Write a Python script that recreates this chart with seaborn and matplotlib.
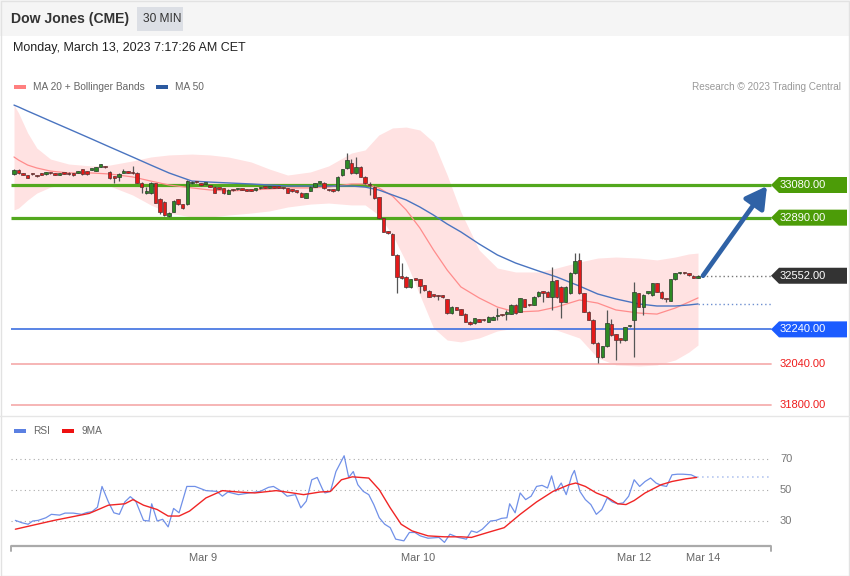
import numpy as np
import pandas as pd
import matplotlib
matplotlib.use("Agg")
import matplotlib.pyplot as plt
from matplotlib.patches import Rectangle, Polygon
from matplotlib.transforms import blended_transform_factory
import seaborn as sns

# ------------------------------------------------------------------ data
opens = [33144, 33167, 33144, 33138, 33146, 33134, 33144, 33144, 33150, 33147,
         33138, 33147, 33152, 33144, 33150, 33173, 33161, 33170, 33163, 33185,
         33191, 33157, 33127, 33127, 33150, 33156, 33150, 33152, 33093, 33035,
         33035, 33090, 32999, 32983, 32900, 32925, 32997, 32969, 32969, 33090,
         33099, 33090, 33086, 33071, 33070, 33062, 33061, 33028, 33052, 33054,
         33055, 33048, 33047, 33051, 33062, 33066, 33065, 33067, 33065, 33063,
         33061, 33048, 33042, 33035, 33006, 33047, 33070, 33092, 33093, 33052,
         33048, 33051, 33138, 33177, 33210, 33148, 33186, 33128, 33082, 33070,
         33008, 32886, 32804, 32795, 32673, 32543, 32546, 32485, 32532, 32531,
         32498, 32465, 32436, 32435, 32438, 32415, 32334, 32368, 32357, 32330,
         32285, 32275, 32299, 32296, 32285, 32295, 32317, 32325, 32330, 32330,
         32382, 32343, 32415, 32383, 32382, 32434, 32456, 32459, 32427, 32527,
         32488, 32401, 32450, 32566, 32644, 32450, 32343, 32295, 32162, 32078,
         32143, 32271, 32211, 32180, 32178, 32259, 32295, 32450, 32372, 32453,
         32440, 32508, 32459, 32416, 32407, 32532, 32566, 32568, 32566, 32551,
         32540]
closes = [33167, 33150, 33141, 33121, 33142, 33130, 33141, 33150, 33147, 33138,
          33147, 33145, 33142, 33141, 33157, 33144, 33144, 33173, 33185, 33202,
          33182, 33119, 33121, 33144, 33152, 33150, 33148, 33093, 33070, 33047,
          33093, 32977, 32925, 32905, 32919, 32989, 32969, 32944, 33105, 33099,
          33097, 33080, 33090, 33069, 33035, 33059, 33035, 33051, 33050, 33056,
          33053, 33046, 33045, 33061, 33064, 33064, 33067, 33065, 33063, 33061,
          33035, 33046, 33040, 33012, 33032, 33070, 33090, 33094, 33061, 33050,
          33046, 33128, 33171, 33225, 33148, 33186, 33128, 33090, 33078, 33003,
          32886, 32808, 32802, 32673, 32543, 32540, 32485, 32531, 32530, 32492,
          32469, 32430, 32434, 32433, 32427, 32334, 32372, 32353, 32324, 32285,
          32271, 32304, 32285, 32294, 32314, 32314, 32318, 32323, 32331, 32382,
          32334, 32421, 32372, 32381, 32430, 32459, 32454, 32430, 32523, 32427,
          32401, 32488, 32570, 32640, 32450, 32343, 32295, 32159, 32078, 32143,
          32275, 32207, 32178, 32178, 32252, 32261, 32459, 32372, 32440, 32455,
          32508, 32459, 32421, 32414, 32532, 32566, 32568, 32566, 32555, 32540,
          32552]
highs = [33173, 33173, 33147, 33141, 33149, 33136, 33147, 33153, 33153, 33150,
         33150, 33150, 33155, 33150, 33160, 33176, 33164, 33176, 33187, 33205,
         33193, 33160, 33130, 33147, 33173, 33159, 33191, 33155, 33096, 33068,
         33096, 33093, 33002, 32986, 32922, 32992, 33000, 32972, 33110, 33102,
         33102, 33093, 33093, 33074, 33073, 33065, 33064, 33054, 33055, 33059,
         33058, 33051, 33050, 33064, 33067, 33069, 33070, 33070, 33068, 33066,
         33064, 33055, 33045, 33038, 33035, 33073, 33093, 33097, 33096, 33055,
         33051, 33131, 33174, 33268, 33230, 33245, 33190, 33131, 33097, 33073,
         33011, 32889, 32810, 32798, 32676, 32626, 32549, 32534, 32535, 32534,
         32501, 32468, 32439, 32438, 32441, 32418, 32375, 32371, 32360, 32333,
         32288, 32307, 32302, 32299, 32317, 32317, 32364, 32328, 32353, 32385,
         32385, 32424, 32418, 32386, 32433, 32462, 32462, 32462, 32605, 32530,
         32491, 32491, 32573, 32684, 32684, 32453, 32346, 32298, 32165, 32146,
         32353, 32300, 32214, 32183, 32255, 32266, 32517, 32453, 32443, 32460,
         32511, 32511, 32462, 32419, 32535, 32569, 32574, 32574, 32569, 32554,
         32555]
lows = [33138, 33144, 33138, 33118, 33140, 33127, 33138, 33141, 33144, 33136,
        33136, 33142, 33140, 33132, 33147, 33141, 33141, 33167, 33161, 33182,
        33179, 33115, 33092, 33103, 33147, 33147, 33144, 33090, 33033, 33028,
        33030, 32974, 32911, 32900, 32896, 32922, 32966, 32940, 32966, 33087,
        33093, 33077, 33082, 33066, 33032, 33056, 33030, 33025, 33047, 33051,
        33050, 33044, 33043, 33048, 33059, 33061, 33062, 33062, 33060, 33058,
        33032, 33040, 33033, 33009, 33003, 33044, 33067, 33089, 33058, 33045,
        33040, 33048, 33135, 33174, 33145, 33145, 33125, 33087, 33022, 33000,
        32883, 32805, 32795, 32670, 32453, 32535, 32482, 32482, 32527, 32452,
        32466, 32427, 32431, 32411, 32424, 32331, 32331, 32350, 32321, 32282,
        32268, 32272, 32282, 32291, 32282, 32292, 32295, 32320, 32295, 32327,
        32331, 32340, 32369, 32378, 32379, 32431, 32399, 32427, 32353, 32424,
        32306, 32398, 32447, 32563, 32447, 32340, 32292, 32156, 32046, 32075,
        32140, 32204, 32062, 32160, 32175, 32254, 32081, 32369, 32324, 32448,
        32437, 32456, 32418, 32399, 32404, 32529, 32560, 32560, 32552, 32537,
        32537]

band_idx = [0, 1, 3, 5, 8, 12, 17, 21, 26, 30, 34, 39, 43, 47, 52, 56, 60, 65, 69, 74,
            77, 80, 83, 86, 89, 92, 95, 98, 102, 106, 110, 115, 119, 124, 128, 132,
            137, 141, 145, 148, 150]
bb_upper = [33545, 33499, 33383, 33295, 33231, 33202, 33191, 33196, 33220, 33243,
            33255, 33260, 33255, 33243, 33214, 33173, 33138, 33156, 33191, 33266,
            33284, 33371, 33412, 33417, 33400, 33330, 33138, 32923, 32702, 32597,
            32574, 32574, 32597, 32632, 32655, 32661, 32655, 32644, 32661, 32679, 32684]
ma20 = [33243, 33225, 33196, 33179, 33161, 33150, 33150, 33144, 33127, 33103,
        33080, 33063, 33051, 33045, 33051, 33057, 33063, 33063, 33068, 33086,
        33086, 33063, 33016, 32935, 32830, 32702, 32585, 32487, 32423, 32370,
        32341, 32347, 32370, 32411, 32393, 32353, 32335, 32329, 32364, 32399, 32423]
bb_lower = [32935, 32946, 32993, 33033, 33068, 33086, 33086, 33074, 33022, 32964,
            32917, 32894, 32894, 32905, 32917, 32929, 32952, 32969, 32975, 32964,
            32964, 32905, 32789, 32632, 32440, 32248, 32178, 32167, 32190, 32231,
            32248, 32248, 32236, 32190, 32074, 32033, 32027, 32033, 32062, 32108, 32149]
ma50 = [33545, 33534, 33510, 33487, 33452, 33406, 33348, 33301, 33243, 33196,
        33150, 33103, 33097, 33092, 33086, 33080, 33074, 33074, 33074, 33074,
        33068, 33051, 33022, 32993, 32952, 32905, 32853, 32807, 32737, 32673,
        32626, 32580, 32545, 32492, 32446, 32417, 32388, 32376, 32376, 32382, 32388]

rsi_idx = [0.3, 1.7, 3.1, 4.1, 5.3, 7.0, 8.2, 10.0, 11.2, 13.0,
           14.8, 16.0, 17.1, 18.3, 19.3, 20.7, 21.9, 23.1, 24.3, 25.5,
           26.7, 28.4, 29.6, 30.2, 31.4, 32.6, 33.8, 35.0, 36.2, 37.9,
           39.7, 42.1, 44.5, 45.7, 46.9, 49.2, 51.6, 54.0, 55.8, 56.9,
           58.7, 59.9, 61.7, 62.9, 64.1, 65.3, 66.5, 67.7, 68.2, 69.4,
           70.6, 72.4, 73.4, 74.4, 75.4, 76.6, 77.8, 78.9, 80.1, 81.3,
           82.5, 83.7, 85.5, 86.7, 87.9, 89.1, 90.8, 93.2, 94.4, 95.6,
           97.4, 99.2, 100.3, 101.5, 102.7, 104.5, 105.7, 106.9, 108.1, 108.7,
           109.9, 111.0, 112.2, 113.4, 114.6, 115.8, 117.0, 117.9, 118.8, 120.0,
           121.1, 122.3, 122.9, 124.1, 125.3, 126.5, 127.7, 128.9, 130.1, 131.2,
           132.4, 133.6, 134.8, 136.0, 137.2, 138.4, 139.6, 140.8, 141.9, 143.1,
           144.3, 145.5, 146.7, 148.5, 149.7]
rsi_val = [30.4, 28.9, 27.9, 30.0, 30.4, 32.1, 34.3, 33.8, 35.1, 35.1,
           34.3, 35.5, 36.0, 38.9, 52.3, 42.3, 35.3, 34.3, 42.3, 45.7,
           42.8, 30.4, 30.0, 41.1, 30.0, 31.1, 26.2, 38.1, 35.3, 52.3,
           52.3, 49.6, 49.1, 46.0, 48.7, 47.0, 48.1, 49.1, 51.7, 52.3,
           49.1, 46.0, 47.0, 38.5, 42.8, 56.6, 58.1, 50.2, 48.1, 49.1,
           61.9, 72.1, 58.1, 61.9, 53.4, 49.1, 47.0, 40.6, 32.1, 27.9,
           25.7, 18.3, 17.2, 22.6, 22.6, 20.4, 18.9, 19.4, 16.2, 21.5,
           19.4, 18.3, 23.6, 22.6, 24.7, 30.0, 30.4, 31.7, 32.1, 41.1,
           35.3, 48.1, 43.8, 46.0, 52.3, 53.0, 51.3, 59.1, 49.1, 54.5,
           47.0, 59.1, 62.6, 49.1, 43.8, 40.6, 34.3, 37.4, 44.9, 42.3,
           41.1, 41.7, 46.0, 56.6, 52.3, 55.5, 57.7, 54.5, 53.0, 52.3,
           59.8, 60.2, 60.2, 59.8, 58.1]
ma9_idx = [0.3, 8.8, 16.5, 20.7, 24.3, 26.1, 28.4, 31.4, 33.8, 36.2,
           38.5, 42.1, 45.7, 49.2, 52.8, 57.5, 61.1, 63.5, 67.1, 69.4,
           71.8, 74.2, 77.8, 80.1, 82.5, 84.9, 87.3, 90.8, 94.4, 98.0,
           100.3, 103.9, 107.5, 111.0, 114.6, 118.2, 121.7, 123.2, 125.3, 127.7,
           130.1, 132.4, 134.2, 136.0, 138.4, 141.9, 144.3, 147.3, 149.7]
ma9_val = [24.7, 30.4, 34.9, 40.2, 41.1, 43.8, 40.2, 37.4, 33.2, 33.2,
           36.4, 44.9, 49.6, 48.7, 48.1, 49.6, 48.1, 47.0, 48.7, 49.1,
           56.6, 58.5, 57.7, 50.2, 38.5, 27.9, 23.6, 20.4, 19.8, 19.8,
           19.4, 22.6, 25.7, 34.3, 42.3, 49.1, 53.4, 54.5, 52.3, 48.1,
           45.3, 41.1, 40.6, 43.2, 48.1, 53.4, 55.5, 57.2, 58.1]

resistances = [33080, 32890]
supports = [32240, 32040, 31800]
last_price = 32552
target_price = 33074
rsi_levels = [70, 50, 30]
date_labels = ["Mar 9", "Mar 10", "Mar 12", "Mar 14"]
date_pos = [41.4, 88.6, 136.0, 151.1]

# ------------------------------------------------------------------ layout helpers
W, H = 850, 576
X0, STEP = 14.0, 4.56          # pixel of candle 0, pixel per candle
PPP = 1280.0 / 220.0           # price units per pixel


def px2i(px):
    return (px - X0) / STEP


def py2price(py):
    return 33080 - (py - 185) * PPP


def py2rsi(py):
    return 50 - (py - 490) / 1.55


sns.set_theme(style="white")
plt.rcParams['font.family'] = ['Liberation Sans', 'DejaVu Sans']

fig = plt.figure(figsize=(W / 100, H / 100), dpi=100)
fig.patch.set_facecolor('white')

# header
fig.add_artist(Rectangle((0, 1 - 36 / H), 1, 36 / H, transform=fig.transFigure,
                         facecolor='#f5f5f5', edgecolor='none', zorder=0))
fig.add_artist(Rectangle((137 / W, 1 - 31 / H), 46 / W, 24 / H, transform=fig.transFigure,
                         facecolor='#dcdfe5', edgecolor='none', zorder=1))
fig.text(11 / W, 1 - 18.5 / H, "Dow Jones (CME)", fontsize=10.1, fontweight='bold',
         color='#333333', va='center', ha='left')
fig.text(143 / W, 1 - 19 / H, "30 MIN", fontsize=8.6, color='#333333', va='center', ha='left')
fig.text(13 / W, 1 - 48.5 / H, "Monday, March 13, 2023 7:17:26 AM CET", fontsize=9,
         color='#222222', va='center', ha='left')

# legends
fig.add_artist(Rectangle((14 / W, 1 - 88.5 / H), 12 / W, 4 / H, transform=fig.transFigure,
                         facecolor='#ff7f7f', edgecolor='none'))
fig.text(33 / W, 1 - 86.5 / H, "MA 20 + Bollinger Bands", fontsize=7.3, color='#666666', va='center')
fig.add_artist(Rectangle((156 / W, 1 - 88.5 / H), 12 / W, 4 / H, transform=fig.transFigure,
                         facecolor='#2c5aa0', edgecolor='none'))
fig.text(175 / W, 1 - 86.5 / H, "MA 50", fontsize=7.3, color='#666666', va='center')
fig.text(841 / W, 1 - 86.5 / H, "Research \u00a9 2023 Trading Central", fontsize=7.2,
         color='#999999', va='center', ha='right')

fig.add_artist(Rectangle((14 / W, 1 - 433 / H), 12 / W, 4 / H, transform=fig.transFigure,
                         facecolor='#5b80e2', edgecolor='none'))
fig.text(33 / W, 1 - 431 / H, "RSI", fontsize=7.3, color='#666666', va='center')
fig.add_artist(Rectangle((62 / W, 1 - 433 / H), 12 / W, 4 / H, transform=fig.transFigure,
                         facecolor='#ee1111', edgecolor='none'))
fig.text(81 / W, 1 - 431 / H, "9MA", fontsize=7.3, color='#666666', va='center')

# separators / border
fig.add_artist(plt.Line2D([0, 1], [1 - 416 / H, 1 - 416 / H], transform=fig.transFigure,
                          color='#e6e6e6', lw=1))
fig.add_artist(Rectangle((0.5 / W, 0.5 / H), 848.5 / W, 574.5 / H, transform=fig.transFigure,
                         fill=False, edgecolor='#e2e2e2', lw=1))

# ------------------------------------------------------------------ main price panel
ax = fig.add_axes([11 / W, 1 - 412 / H, 837 / W, (412 - 90) / H])
ax.set_xlim(px2i(11), px2i(848))
ax.set_ylim(py2price(412), py2price(90))
ax.set_axis_off()

xr = px2i(771)
ax.fill_between(band_idx, bb_lower, bb_upper, color='#ffe2e2', lw=0, zorder=1)
sns.lineplot(x=band_idx, y=ma20, ax=ax, color='#ff8c8c', lw=0.9, zorder=3, legend=False)
sns.lineplot(x=band_idx, y=ma50, ax=ax, color='#4a74c0', lw=1.0, zorder=3, legend=False)

for lv in resistances:
    ax.plot([px2i(11), xr], [lv, lv], color='#52a81e', lw=2.3, zorder=2, solid_capstyle='butt')
ax.plot([px2i(11), xr], [supports[0]] * 2, color='#3d6fe0', lw=1.2, zorder=2)
for lv in supports[1:]:
    ax.plot([px2i(11), xr], [lv, lv], color='#f6b0b0', lw=1.3, zorder=2)

n = len(closes)
idx = np.arange(n)
ax.plot([idx[-1], xr], [last_price, last_price], color='#777777', lw=1, ls=(0, (1, 2)), zorder=2)
ax.plot([idx[-1], xr], [ma50[-1], ma50[-1]], color='#6e8fd0', lw=1, ls=(0, (1, 2)), zorder=2)

o = np.array(opens, float)
c = np.array(closes, float)
h = np.array(highs, float)
l = np.array(lows, float)
up = c >= o
body_lo = np.minimum(o, c)
body_h = np.maximum(np.abs(c - o), 9.0)
ax.vlines(idx, l, h, color='#555555', lw=0.9, zorder=4)
ax.bar(idx[up], body_h[up], bottom=body_lo[up], width=0.76, color='#2d8a25',
       edgecolor='#2a3a2a', lw=0.5, zorder=5)
ax.bar(idx[~up], body_h[~up], bottom=body_lo[~up], width=0.76, color='#e41a1a',
       edgecolor='#553333', lw=0.5, zorder=5)


def tag(level, face, text_color='white', box=True):
    hh = 8 * PPP
    if box:
        poly = Polygon([(px2i(771), level), (px2i(779), level + hh), (px2i(847), level + hh),
                        (px2i(847), level - hh), (px2i(779), level - hh)], closed=True,
                       facecolor=face, edgecolor='none', zorder=6, clip_on=False)
        ax.add_patch(poly)
    ax.text(px2i(780), level, f"{level:.2f}", color=text_color, fontsize=8.0,
            va='center', ha='left', zorder=7, clip_on=False)


for lv in resistances:
    tag(lv, '#4c9c08')
tag(last_price, '#333333')
tag(supports[0], '#1c5cff')
for lv in supports[1:]:
    tag(lv, None, text_color='#ee1c1c', box=False)

ax.annotate('', xy=(px2i(767), target_price), xytext=(px2i(703), last_price),
            arrowprops=dict(arrowstyle='-|>,head_width=0.45,head_length=0.8', lw=3.4,
                            color='#2f62a6', mutation_scale=16, shrinkA=0, shrinkB=0),
            zorder=8)

# ------------------------------------------------------------------ RSI panel
axr = fig.add_axes([11 / W, 1 - 546 / H, 837 / W, (546 - 440) / H])
axr.set_xlim(px2i(11), px2i(848))
axr.set_ylim(py2rsi(546), py2rsi(440))
axr.set_axis_off()

for lv in rsi_levels:
    axr.plot([px2i(11), xr], [lv, lv], color='#aaaaaa', lw=0.8, ls=(0, (1, 3)), zorder=1)
    axr.text(px2i(780), lv, f"{lv}", fontsize=8.0, color='#777777', va='center', ha='left')

sns.lineplot(x=rsi_idx, y=rsi_val, ax=axr, color='#7090e8', lw=0.9, zorder=3, legend=False)
sns.lineplot(x=ma9_idx, y=ma9_val, ax=axr, color='#f02525', lw=1.0, zorder=4, legend=False)
axr.plot([rsi_idx[-1], xr], [rsi_val[-1]] * 2, color='#b8c8f0', lw=1.2, ls=(0, (1, 2)), zorder=2)

tr = blended_transform_factory(axr.transData, axr.transAxes)
axr.plot([px2i(11), xr], [0, 0], transform=tr, color='#aaaaaa', lw=1.6, clip_on=False,
         solid_capstyle='butt')
for xe in (px2i(11), xr):
    axr.plot([xe, xe], [0, -5 / 106], transform=tr, color='#aaaaaa', lw=1.4, clip_on=False)
for lab, pos in zip(date_labels, date_pos):
    axr.text(pos, -12 / 106, lab, transform=tr, fontsize=7.9, color='#666666',
             ha='center', va='center', clip_on=False)

fig.savefig("out.png", dpi=100, facecolor='white')
